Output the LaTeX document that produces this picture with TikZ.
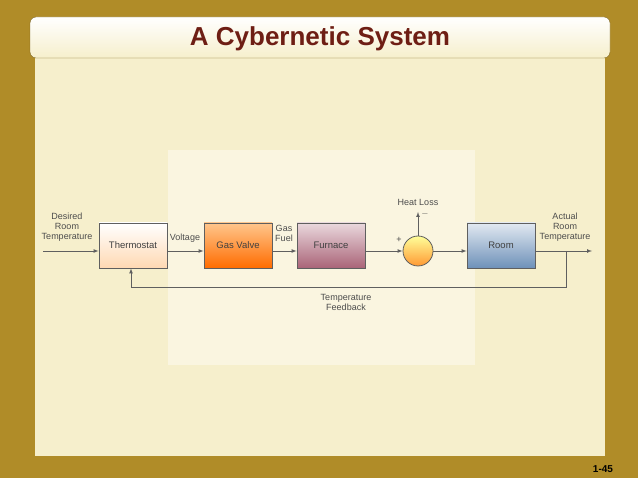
\documentclass[tikz,border=0pt]{standalone}
\usepackage{fontspec}
\setmainfont{Liberation Sans}
\definecolor{Gold}{RGB}{176,140,40}
\definecolor{Panel}{RGB}{246,239,204}
\definecolor{Inner}{RGB}{250,245,224}
\definecolor{TitleRed}{RGB}{110,30,20}
\definecolor{LineGray}{RGB}{95,95,95}
\definecolor{Mauve}{RGB}{170,100,120}
\definecolor{Steel}{RGB}{110,145,185}
\tikzset{
  block/.style={draw=LineGray,line width=.8pt,minimum width=68pt,minimum height=45pt,font=\fontsize{9.5}{10}\selectfont,text=black!75},
  lbl/.style={font=\fontsize{9}{10}\selectfont,text=black!70,align=center},
  flow/.style={draw=LineGray,line width=.7pt,-latex}
}
\begin{document}
\begin{tikzpicture}[x=1pt,y=-1pt]
\useasboundingbox (0,0) rectangle (638,478);
\fill[Gold] (0,0) rectangle (638,478);
\fill[Panel] (35,55) rectangle (605,456);
\fill[Inner] (168,150) rectangle (475,365);
\shade[top color=white,bottom color=Panel,draw=Gold!70!black,rounded corners=6pt] (30,17) rectangle (610,58);
\node[font=\bfseries\fontsize{26}{28}\selectfont,text=TitleRed] (title) at (320,39) {A Cybernetic System};
\node[font=\bfseries\fontsize{10}{11}\selectfont] (page) at (603,469) {1-45};
% blocks
\node[block,top color=white,bottom color=orange!30] (thermo) at (133,245.5) {Thermostat};
\node[block,top color=orange!45,bottom color=orange!85!red] (valve) at (238,245.5) {Gas Valve};
\node[block,top color=Mauve!25,bottom color=Mauve] (furnace) at (331,245.5) {Furnace};
\node[draw=LineGray,line width=.8pt,circle,minimum size=30pt,inner sep=0pt,top color=yellow!40,bottom color=orange!80] (sum) at (418,251) {};
\node[block,top color=Steel!20,bottom color=Steel] (room) at (501,245.5) {Room};
% connectors
\coordinate (in) at (43,251);
\coordinate (out) at (592,251);
\coordinate (tap) at (566,251);
\coordinate (loss) at (418,212);
\draw[flow] (in) -- (thermo.west |- in);
\draw[flow] (thermo.east |- in) -- (valve.west |- in);
\draw[flow] (valve.east |- in) -- (furnace.west |- in);
\draw[flow] (furnace.east |- in) -- (sum.west);
\draw[flow] (sum.east) -- (room.west |- in);
\draw[flow] (room.east |- in) -- (out);
\draw[flow] (sum.north) -- (loss);
\draw[flow] (tap) -- (566,287) -| (thermo.south -| 131,0);
% labels
\node[lbl] (desired) at (67,227) {Desired\\Room\\Temperature};
\node[lbl] (voltage) at (185,238) {Voltage};
\node[lbl] (gas) at (284,233) {Gas\\Fuel};
\node[lbl] (actual) at (565,227) {Actual\\Room\\Temperature};
\node[lbl] (feedback) at (346,302) {Temperature\\Feedback};
\node[lbl] (heat) at (418,202) {Heat Loss};
\node[lbl] (minus) at (425,214) {$-$};
\node[lbl] (plus) at (399,240) {+};
\end{tikzpicture}
\end{document}
